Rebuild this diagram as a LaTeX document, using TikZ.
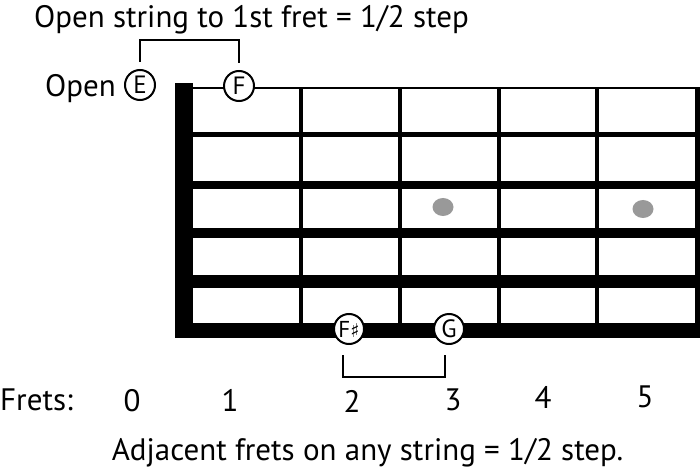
\documentclass[tikz,border=0pt]{standalone}
\usepackage{fontspec}
\setmainfont{PT Sans}
\newfontfamily\djv{DejaVu Sans}
\usetikzlibrary{calc}
\begin{document}
\begin{tikzpicture}[x=1pt,y=-1pt,
  notecirc/.style={circle,draw,line width=2pt,fill=white,minimum size=30pt,inner sep=0pt,font=\fontsize{25}{25}\selectfont},
  bigtext/.style={font=\fontsize{31}{31}\selectfont,inner sep=0pt,anchor=base},
  fretline/.style={line width=4.5pt},
  bracketline/.style={line width=2pt},
  inlay/.style={fill=black!40}
]
\useasboundingbox (0,0) rectangle (700,470);
% frets
\foreach \fx/\nm in {301/f1,400/f2,499/f3,597/f4,697.5/f5}{
  \coordinate (\nm top) at (\fx,88);
  \coordinate (\nm bot) at (\fx,330);
  \draw[fretline] (\nm top) -- (\nm bot);
}
% strings
\foreach \sy/\sw/\nm in {88/2.5/s1,134.5/5/s2,185/7.5/s3,233/10/s4,281.5/13/s5,330/15/s6}{
  \coordinate (\nm L) at (185,\sy);
  \coordinate (\nm R) at (700,\sy);
  \draw[line width=\sw pt] (\nm L) -- (\nm R);
}
% nut
\fill (175,83) rectangle (193,338);
% inlays
\fill[inlay] (443,207) ellipse [x radius=10.5pt, y radius=9pt];
\fill[inlay] (643,209) ellipse [x radius=10.5pt, y radius=9pt];
% notes
\node[notecirc] (E) at (140,85) {E};
\node[notecirc] (F) at (239,86) {F};
\node[notecirc] (Fs) at (349,329) {\fontsize{23}{23}\selectfont F{\djv\fontsize{19}{19}\selectfont ♯}};
\node[notecirc] (G) at (449,329) {G};
% brackets
\draw[bracketline] ($(E.north)+(0,-7)$) |- ($(F.north)+(0,-30)$) -- ($(F.north)+(0,-7)$);
\draw[bracketline] ($(Fs.south)+(-6,10)$) |- ($(G.south)+(-4,32)$) -- ($(G.south)+(-4,10)$);
% texts
\node[bigtext] (title) at (251.5,28) {Open string to 1st fret = 1/2 step};
\node[bigtext,anchor=base west] (open) at (45,97) {Open};
\node[bigtext,anchor=base west] (frets) at (0,410) {Frets:};
\node[bigtext] (n0) at (132,411) {0};
\node[bigtext] (n1) at (230,411) {1};
\node[bigtext] (n2) at (352,412) {2};
\node[bigtext] (n3) at (453,410) {3};
\node[bigtext] (n4) at (543,408) {4};
\node[bigtext] (n5) at (645,407) {5};
\node[bigtext] (caption) at (367.5,460) {Adjacent frets on any string = 1/2 step.};
\end{tikzpicture}
\end{document}
